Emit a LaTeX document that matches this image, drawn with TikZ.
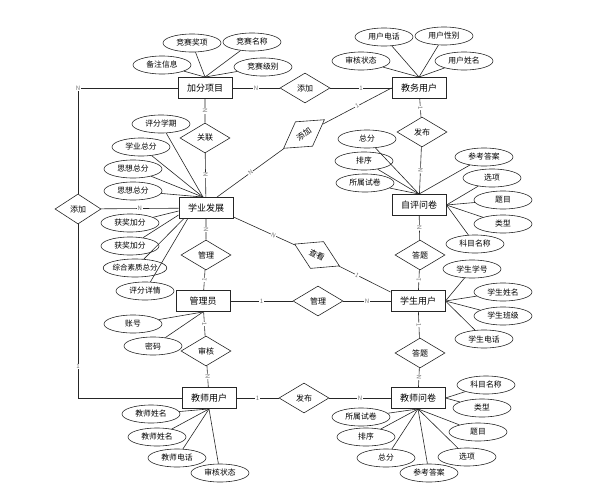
\documentclass[tikz,border=0pt]{standalone}
\usepackage{fontspec}
\setmainfont{Noto Sans CJK SC}
\usepackage{tikz}
\usetikzlibrary{shapes.geometric}
\definecolor{edge}{gray}{0.15}
\definecolor{cardgray}{gray}{0.45}

\tikzset{
  entity/.style={draw=edge, line width=0.9, minimum width=54, minimum height=21, inner sep=1, font=\fontsize{9}{10}\selectfont},
  attr/.style={draw=edge, ellipse, minimum width=58, minimum height=18, inner sep=0, font=\fontsize{7.8}{8}\selectfont},
  rel/.style={draw=edge, diamond, minimum width=50, minimum height=30, inner sep=0, font=\fontsize{8}{9}\selectfont},
  card/.style={font=\fontsize{6}{6}\selectfont, fill=white, inner sep=0.6, text=cardgray}
}

\begin{document}
\begin{tikzpicture}[x=1pt, y=-1pt, line width=0.6, draw=edge]

  \useasboundingbox (0,0) rectangle (603,491);

  % entities
  \node[entity] (jfxm) at (205,88) {加分项目};
  \node[entity] (jwyh) at (419,88) {教务用户};
  \node[entity] (xyfz) at (206,208) {学业发展};
  \node[entity] (zpwj) at (419,205) {自评问卷};
  \node[entity] (gly) at (203,301) {管理员};
  \node[entity] (xsyh) at (418,301) {学生用户};
  \node[entity] (jsyh) at (209,398) {教师用户};
  \node[entity] (jswj) at (418,398) {教师问卷};

  % relations
  \node[rel] (tj1) at (305,88) {添加};
  \node[rel] (gl1) at (205,138) {关联};
  \node[rel, rotate=35] (tj2) at (304,134) {添加};
  \node[rel] (fb1) at (422,132) {发布};
  \node[rel, minimum width=46] (tj3) at (78,209) {添加};
  \node[rel] (gl2) at (206,255) {管理};
  \node[rel, rotate=-26] (ck) at (317,255) {查看};
  \node[rel] (gl3) at (318,301) {管理};
  \node[rel] (dt1) at (420,255) {答题};
  \node[rel] (dt2) at (420,353) {答题};
  \node[rel] (sh) at (206,351) {审核};
  \node[rel] (fb2) at (304,398) {发布};

  % attributes of jfxm
  \node[attr] (jfa) at (192,43) {竞赛奖项};
  \node[attr] (jfb) at (252,42) {竞赛名称};
  \node[attr] (jfc) at (162,65) {备注信息};
  \node[attr] (jfd) at (263,67) {竞赛级别};

  % attributes of jwyh
  \node[attr] (jwa) at (384,37) {用户电话};
  \node[attr] (jwb) at (444,36) {用户性别};
  \node[attr] (jwc) at (361,61) {审核状态};
  \node[attr] (jwd) at (464,61) {用户姓名};

  % attributes of xyfz
  \node[attr] (xya) at (161,124) {评分学期};
  \node[attr] (xyb) at (141,147) {学业总分};
  \node[attr] (xyc) at (133,169) {思想总分};
  \node[attr] (xyd) at (133,191) {思想总分};
  \node[attr] (xye) at (130,223) {获奖加分};
  \node[attr] (xyf) at (130,246) {获奖加分};
  \node[attr, font=\fontsize{7.5}{8}\selectfont] (xyg) at (135,268) {综合素质总分};
  \node[attr] (xyh) at (145,291) {评分详情};

  % attributes of zpwj
  \node[attr] (zpa) at (367,139) {总分};
  \node[attr] (zpb) at (364,161) {排序};
  \node[attr] (zpc) at (365,183) {所属试卷};
  \node[attr] (zpd) at (484,157) {参考答案};
  \node[attr] (zpe) at (492,178) {选项};
  \node[attr] (zpf) at (503,200) {题目};
  \node[attr] (zpg) at (503,224) {类型};
  \node[attr] (zph) at (475,244) {科目名称};

  % attributes of xsyh
  \node[attr] (xsa) at (472,269) {学生学号};
  \node[attr] (xsb) at (503,292) {学生姓名};
  \node[attr] (xsc) at (503,316) {学生班级};
  \node[attr] (xsd) at (484,339) {学生电话};

  % attributes of jswj
  \node[attr] (jwja) at (486,385) {科目名称};
  \node[attr] (jwjb) at (482,408) {类型};
  \node[attr] (jwjc) at (478,432) {题目};
  \node[attr] (jwjd) at (467,457) {选项};
  \node[attr] (jwje) at (429,473) {参考答案};
  \node[attr] (jwjf) at (386,458) {总分};
  \node[attr] (jwjg) at (366,437) {排序};
  \node[attr] (jwjh) at (361,417) {所属试卷};

  % attributes of gly
  \node[attr] (glya) at (133,324) {账号};
  \node[attr] (glyb) at (153,346) {密码};

  % attributes of jsyh
  \node[attr] (jsa) at (151,414) {教师姓名};
  \node[attr] (jsb) at (157,437) {教师姓名};
  \node[attr] (jsc) at (177,458) {教师电话};
  \node[attr] (jsd) at (220,473) {审核状态};

  % attribute links
  \foreach \a in {jfa, jfb, jfc, jfd} \draw (\a) -- (jfxm.north);
  \foreach \a in {jwa, jwb, jwc, jwd} \draw (\a) -- (jwyh.north);
  \foreach \a in {xya, xyb, xyc, xyd} \draw (\a) -- ([xshift=-3]xyfz.north);
  \draw (xye) -- ([yshift=-3]xyfz.west);
  \draw (xyf) -- ([yshift=-7]xyfz.west);
  \draw (xyg) -- ([xshift=5]xyfz.south west);
  \draw (xyh) -- ([xshift=9]xyfz.south west);
  \foreach \a in {zpa, zpb, zpc, zpd} \draw (\a) -- (zpwj.north);
  \foreach \a in {zpe, zpf, zpg, zph} \draw (\a) -- (zpwj.east);
  \foreach \a in {xsa, xsb, xsc, xsd} \draw (\a) -- (xsyh.east);
  \foreach \a in {jwja, jwjb} \draw (\a) -- (jswj.east);
  \foreach \a in {jwjc, jwjd, jwje, jwjf, jwjg, jwjh} \draw (\a) -- (jswj.south);
  \foreach \a in {glya, glyb} \draw (\a) -- (gly.south);
  \foreach \a in {jsa, jsb, jsc, jsd} \draw (\a) -- (jsyh.south);

  % relation links
  \draw (jfxm) -- node[card]{N} (tj1) -- node[card]{1} (jwyh);
  \draw (jfxm) -- node[card, sloped]{N} (gl1) -- node[card, sloped]{N} (xyfz);
  \draw ([xshift=11]xyfz.north) -- node[card, sloped]{N} (tj2) -- node[card, sloped]{1} (jwyh.west);
  \draw (jwyh) -- node[card, sloped]{1} (fb1) -- node[card, sloped]{N} (zpwj);
  \draw (tj3) |- node[card]{N} (jfxm);
  \draw (tj3) -- node[card]{N} (xyfz);
  \draw (tj3) |- node[card, pos=0.41]{1} (jsyh);
  \draw (xyfz) -- node[card, sloped]{N} (gl2) -- node[card, sloped]{1} (gly);
  \draw ([yshift=-9]xyfz.east) -- node[card, sloped, pos=0.65]{N} (ck) -- node[card, sloped, pos=0.35]{1} ([yshift=-2]xsyh.north west);
  \draw (gly) -- node[card]{1} (gl3) -- node[card]{N} (xsyh);
  \draw (zpwj) -- node[card, sloped]{N} (dt1) -- node[card, sloped]{1} (xsyh);
  \draw (xsyh) -- node[card, sloped]{1} (dt2) -- node[card, sloped]{N} (jswj);
  \draw (gly) -- node[card, sloped]{1} (sh) -- node[card, sloped]{N} (jsyh);
  \draw (jsyh) -- node[card]{1} (fb2) -- node[card]{N} (jswj);

\end{tikzpicture}
\end{document}
